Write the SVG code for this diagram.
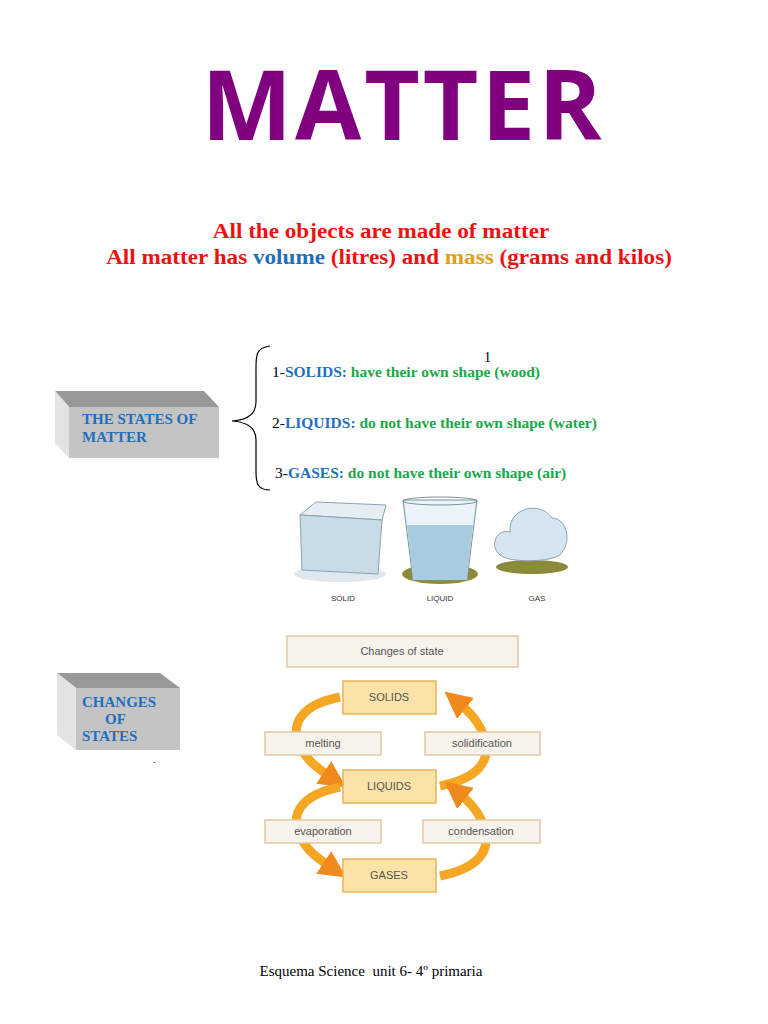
<svg xmlns="http://www.w3.org/2000/svg" width="768" height="1024" viewBox="0 0 768 1024">
<defs>
<style>
.ser{font-family:"Liberation Serif",serif;font-weight:bold}
.blue{fill:#1f6fbf}
.grn{fill:#1aa84a}
.ob{fill:#fbe3a8;stroke:#e9b45a;stroke-width:1.5}
.lb{fill:#f7f3ec;stroke:#e0c9a0;stroke-width:1.5}
.ot{font-family:"Liberation Sans",sans-serif;font-size:11px;fill:#555;text-anchor:middle}
.arc{fill:none;stroke:#f5a623;stroke-width:9}
.cap{font-family:"Liberation Sans",sans-serif;font-size:8px;fill:#333;text-anchor:middle}
</style>
<marker id="ah" viewBox="0 0 10 10" refX="5" refY="5" markerWidth="3" markerHeight="3" orient="auto"><path d="M0,0L10,5L0,10z" fill="#f08a1c"/></marker>
</defs>
<rect width="768" height="1024" fill="#fff"/>
<text x="403" y="140" font-family="Open Sans,Liberation Sans,sans-serif" font-weight="bold" font-size="96" letter-spacing="3" fill="#800080" text-anchor="middle">MATTER</text>
<text class="ser" x="381" y="238" font-size="20.5" fill="#ee1111" text-anchor="middle" transform="translate(381 0) scale(1.13 1) translate(-381 0)">All the objects are made of matter</text>
<text class="ser" x="389" y="264" font-size="20.5" fill="#ee1111" text-anchor="middle" transform="translate(389 0) scale(1.13 1) translate(-389 0)">All matter has <tspan fill="#1f6fbf">volume</tspan> (litres) and <tspan fill="#e0a010">mass</tspan> (grams and kilos)</text>
<g id="states-box">
<polygon points="55,391 204,391 219,407 69,407" fill="#999"/>
<polygon points="55,391 69,407 69,458 55,443" fill="#e3e3e3"/>
<rect x="69" y="407" width="150" height="51" fill="#c4c4c4"/>
<text class="ser blue" x="82" y="424" font-size="15">THE STATES OF</text>
<text class="ser blue" x="82" y="442" font-size="15">MATTER</text>
</g>
<g id="connectors">
<path d="M270,346 C255,348 256,356 256,372 L256,402 C256,414 248,420 232,421 C248,422 256,428 256,440 L256,472 C256,484 258,490 270,490" fill="none" stroke="#000" stroke-width="1.2"/>
</g>
<g id="state-list">
<text x="484" y="362" font-family="Liberation Serif,serif" font-size="14">1</text>
<text class="ser" x="272" y="377" font-size="15.5"><tspan font-weight="normal" fill="#000">1-</tspan><tspan class="blue">SOLIDS:</tspan><tspan class="grn"> have their own shape (wood)</tspan></text>
<text class="ser" x="272" y="428" font-size="15.5"><tspan font-weight="normal" fill="#000">2-</tspan><tspan class="blue">LIQUIDS:</tspan><tspan class="grn"> do not have their own shape (water)</tspan></text>
<text class="ser" x="275" y="478" font-size="15.5"><tspan font-weight="normal" fill="#000">3-</tspan><tspan class="blue">GASES:</tspan><tspan class="grn"> do not have their own shape (air)</tspan></text>
</g>
<g id="pictures">
<ellipse cx="340" cy="574" rx="46" ry="8" fill="#dfe8ee"/>
<polygon points="300,515 316,502 386,505 382,520" fill="#e6eef3" stroke="#8aa2b2"/>
<polygon points="300,515 382,520 378,574 302,570" fill="#c9dbe6" stroke="#8aa2b2"/>
<ellipse cx="440" cy="574" rx="38" ry="10" fill="#8a8a3a"/>
<path d="M403,500 L477,500 L467,580 L413,580 Z" fill="#e9f3f8" stroke="#7a8f9c"/>
<path d="M407,525 L473,525 L467,580 L413,580 Z" fill="#a9cbe0"/>
<ellipse cx="440" cy="501" rx="37" ry="4" fill="none" stroke="#7a8f9c"/>
<ellipse cx="532" cy="567" rx="36" ry="7" fill="#8a8a3a"/>
<path d="M500,555 C488,545 498,528 510,532 C508,508 540,500 552,518 C566,518 572,540 562,552 C560,562 510,564 500,555 Z" fill="#d5e6f0" stroke="#8aa2b2"/>
<text class="cap" x="343" y="601">SOLID</text>
<text class="cap" x="440" y="601">LIQUID</text>
<text class="cap" x="537" y="601">GAS</text>
</g>
<g id="changes-box">
<polygon points="57,673 160,673 180,688 76,688" fill="#999"/>
<polygon points="57,673 76,688 76,750 57,735" fill="#e3e3e3"/>
<rect x="76" y="688" width="104" height="62" fill="#c4c4c4"/>
<text class="ser blue" x="82" y="707" font-size="15">CHANGES</text>
<text class="ser blue" x="105" y="724" font-size="15">OF</text>
<text class="ser blue" x="82" y="741" font-size="15">STATES</text>
<text x="153" y="763" font-size="10" font-family="Liberation Serif,serif">.</text>
</g>
<g id="cycle-arrows">
<path class="arc" d="M340,697 C300,705 290,725 300,745 C305,760 320,770 335,780" marker-end="url(#ah)"/>
<path class="arc" d="M440,786 C480,778 490,760 485,740 C480,722 470,712 455,700" marker-end="url(#ah)"/>
<path class="arc" d="M340,787 C300,795 290,815 300,835 C305,850 320,860 335,870" marker-end="url(#ah)"/>
<path class="arc" d="M440,876 C480,868 490,850 485,830 C480,812 470,802 455,790" marker-end="url(#ah)"/>
</g>
<g id="title-box"><rect x="287" y="636" width="231" height="31" class="lb"/><text class="ot" x="402" y="655" font-size="12">Changes of state</text></g>
<g id="solids"><rect x="343" y="681" width="93" height="33" class="ob"/><text class="ot" x="389" y="701">SOLIDS</text></g>
<g id="melting"><rect x="265" y="732" width="116" height="23" class="lb"/><text class="ot" x="323" y="747">melting</text></g>
<g id="solidification"><rect x="425" y="732" width="115" height="23" class="lb"/><text class="ot" x="482" y="747">solidification</text></g>
<g id="liquids"><rect x="343" y="770" width="93" height="33" class="ob"/><text class="ot" x="389" y="790">LIQUIDS</text></g>
<g id="evaporation"><rect x="265" y="820" width="116" height="23" class="lb"/><text class="ot" x="323" y="835">evaporation</text></g>
<g id="condensation"><rect x="423" y="820" width="117" height="23" class="lb"/><text class="ot" x="481" y="835">condensation</text></g>
<g id="gases"><rect x="343" y="859" width="93" height="33" class="ob"/><text class="ot" x="389" y="879">GASES</text></g>
<text x="371" y="976" font-family="Liberation Serif,serif" font-size="15" text-anchor="middle" xml:space="preserve">Esquema Science  unit 6- 4º primaria</text>
</svg>
